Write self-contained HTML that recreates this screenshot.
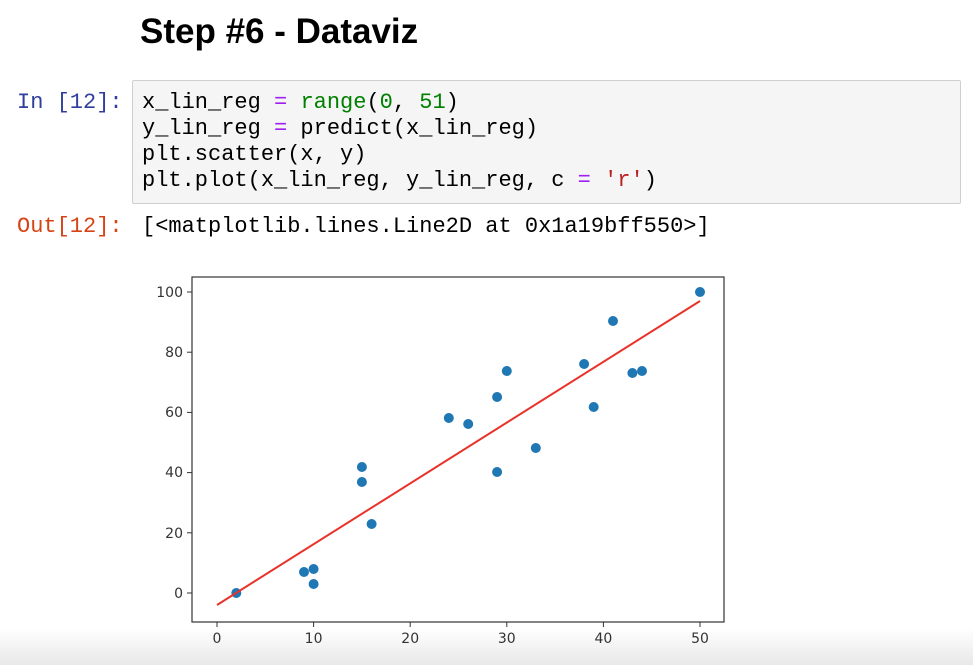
<!DOCTYPE html><html><head><style>
body{margin:0;width:973px;height:665px;background:#fff;overflow:hidden;position:relative;font-family:"Liberation Sans",sans-serif}
.t{position:absolute;left:140px;top:12px;font-size:35px;font-weight:bold;color:#000}
.p{position:absolute;font-family:"Liberation Mono",monospace;font-size:22px;line-height:26px;white-space:pre}
.box{position:absolute;left:132px;top:80px;width:827px;height:122px;background:#f5f5f5;border:1px solid #cfcfcf;border-radius:2px}
.fade{position:absolute;left:0;top:628px;width:973px;height:37px;background:linear-gradient(#fff,#e8e8e8)}
</style></head><body>
<div class="t">Step #6 - Dataviz</div>
<div class="box"></div>
<div class="p" style="left:17px;top:90px;color:#303f9f">In [12]:</div>
<div class="p" style="left:142px;top:90px;color:#000">x_lin_reg <span style="color:#a020f0">=</span> <span style="color:#008000">range</span>(<span style="color:#008000">0</span>, <span style="color:#008000">51</span>)
y_lin_reg <span style="color:#a020f0">=</span> predict(x_lin_reg)
plt.scatter(x, y)
plt.plot(x_lin_reg, y_lin_reg, c <span style="color:#a020f0">=</span> <span style="color:#ba2121">'r'</span>)</div>
<div class="p" style="left:17px;top:214px;color:#d84315">Out[12]:</div>
<div class="p" style="left:142px;top:214px;color:#000">[&lt;matplotlib.lines.Line2D at 0x1a19bff550&gt;]</div>
<div class="fade"></div>
<svg style="position:absolute;left:0;top:0" width="973" height="665" font-family="DejaVu Sans,sans-serif" font-size="14" fill="#333">
<rect x="192" y="277" width="532" height="345" fill="none" stroke="#333" stroke-width="1.2"/>
<g stroke="#333">
<line x1="217" y1="622" x2="217" y2="627"/><line x1="313.6" y1="622" x2="313.6" y2="627"/><line x1="410.2" y1="622" x2="410.2" y2="627"/><line x1="506.8" y1="622" x2="506.8" y2="627"/><line x1="603.4" y1="622" x2="603.4" y2="627"/><line x1="700" y1="622" x2="700" y2="627"/>
<line x1="187" y1="593" x2="192" y2="593"/><line x1="187" y1="532.8" x2="192" y2="532.8"/><line x1="187" y1="472.6" x2="192" y2="472.6"/><line x1="187" y1="412.4" x2="192" y2="412.4"/><line x1="187" y1="352.2" x2="192" y2="352.2"/><line x1="187" y1="292" x2="192" y2="292"/>
</g>
<g text-anchor="middle"><text x="217" y="643">0</text><text x="313.6" y="643">10</text><text x="410.2" y="643">20</text><text x="506.8" y="643">30</text><text x="603.4" y="643">40</text><text x="700" y="643">50</text></g>
<g text-anchor="end"><text x="183" y="598">0</text><text x="183" y="538">20</text><text x="183" y="477">40</text><text x="183" y="417">60</text><text x="183" y="357">80</text><text x="183" y="297">100</text></g>
<g fill="#1f77b4">
<circle cx="236.3" cy="593" r="5"/><circle cx="304" cy="572" r="5"/><circle cx="313.6" cy="569" r="5"/><circle cx="313.6" cy="584" r="5"/><circle cx="361.9" cy="467" r="5"/><circle cx="361.9" cy="482" r="5"/><circle cx="371.6" cy="524" r="5"/><circle cx="448.8" cy="418" r="5"/><circle cx="468.2" cy="424" r="5"/><circle cx="497.1" cy="397" r="5"/><circle cx="497.1" cy="472" r="5"/><circle cx="506.8" cy="371" r="5"/><circle cx="535.8" cy="448" r="5"/><circle cx="584.1" cy="364" r="5"/><circle cx="593.7" cy="407" r="5"/><circle cx="613" cy="321" r="5"/><circle cx="632.4" cy="373" r="5"/><circle cx="642" cy="371" r="5"/><circle cx="700" cy="292" r="5"/>
</g>
<line x1="217" y1="605" x2="700" y2="301" stroke="#e8322a" stroke-width="2"/>
</svg>
</body></html>
